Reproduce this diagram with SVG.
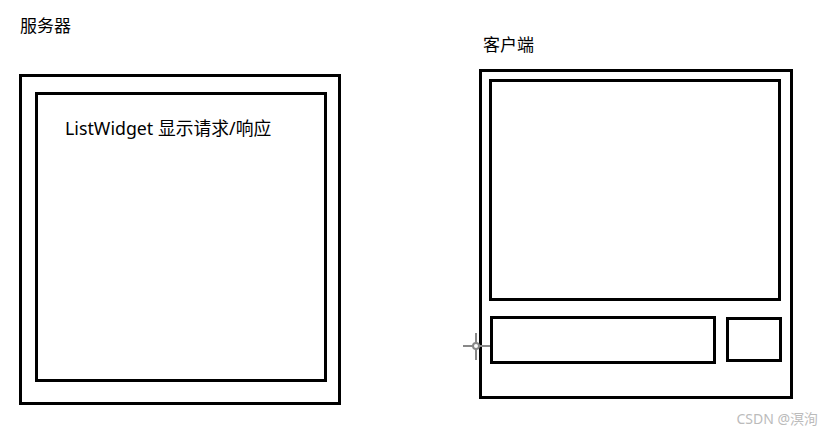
<svg xmlns="http://www.w3.org/2000/svg" width="830" height="435" viewBox="0 0 830 435">
<style>
.b{fill:none;stroke:#000;stroke-width:3}
.t{font-family:"Noto Sans","Noto Sans CJK SC",sans-serif;font-size:17px;fill:#000}
</style>
<rect width="830" height="435" fill="#fff"/>
<g id="server">
<text class="t" x="20" y="32">服务器</text>
<rect class="b" x="20.5" y="75.5" width="319" height="328"/>
</g>
<g id="listwidget">
<rect class="b" x="36.5" y="93.5" width="289" height="287"/>
<text class="t" x="65" y="135" style="font-size:17.8px">ListWidget 显示请求/响应</text>
</g>
<g id="client">
<text class="t" x="483" y="51">客户端</text>
<rect class="b" x="480.5" y="70.5" width="311" height="327"/>
</g>
<g id="display"><rect class="b" x="490.5" y="80.5" width="289" height="219"/></g>
<g id="input"><rect class="b" x="491.5" y="317.5" width="223" height="45"/></g>
<g id="button"><rect class="b" x="727.5" y="318.5" width="53" height="42"/></g>
<g id="connectors"></g>
<g id="cursor" stroke="#888" stroke-width="2">
<line x1="463" y1="346" x2="490" y2="346"/>
<line x1="476" y1="333" x2="476" y2="360"/>
<circle cx="476" cy="346" r="3" fill="#fff"/>
</g>
<text x="818" y="424" text-anchor="end" font-family="Noto Sans,'Noto Sans CJK SC',sans-serif" font-size="14" fill="#bbb">CSDN @溟洵</text>
</svg>
